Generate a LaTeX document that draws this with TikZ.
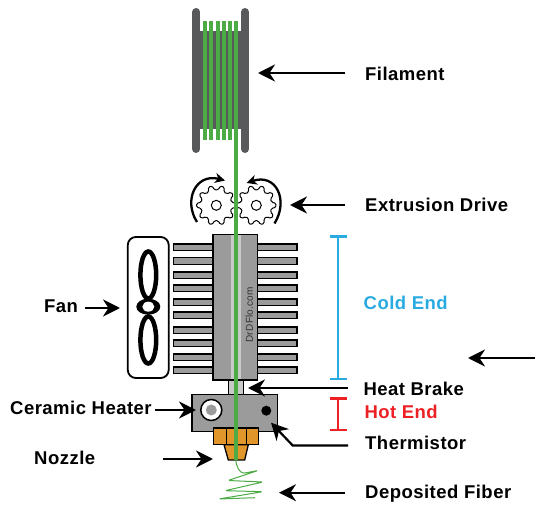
\documentclass[tikz,border=0pt]{standalone}
\usepackage{fontspec}
\setmainfont{Liberation Sans}[LetterSpace=2.6]
\usetikzlibrary{arrows.meta,calc}
\definecolor{fil}{HTML}{4DAB46}
\definecolor{spool}{HTML}{58595B}
\definecolor{steel}{HTML}{9B9B9B}
\definecolor{pale}{HTML}{C9C9C9}
\definecolor{brass}{HTML}{E0962A}
\definecolor{coldc}{HTML}{29ABE2}
\definecolor{hotc}{HTML}{ED2024}
\tikzset{
  lab/.style={anchor=west,inner sep=0pt,font=\fontsize{18.5}{20}\selectfont\bfseries},
  ptr/.style={line width=2.2pt,-{Stealth[length=17pt,width=17pt,inset=5.5pt]}},
  part/.style={draw=black,line width=1.3pt,fill=steel},
  blade/.style={draw=black,line width=4.5pt,fill=white},
  strand/.style={draw=fil,line width=4pt},
  brack/.style={line width=2.3pt},
  turn/.style={line width=2.3pt,-{Stealth[length=10pt,width=10pt,inset=3pt]}}
}
\newcommand{\mygear}[2]{%
  \begin{scope}[shift={(#1,#2)}]
  \draw[black,line width=1pt,fill=white,line join=round,rounded corners=1.4pt]
    (-11:15.5)
    \foreach \a in {0,36,...,324}{
      -- (\a-6:19.8) -- (\a+6:19.8) -- (\a+11:15.5) -- (\a+25:15.5)
    } -- cycle;
  \draw[black,line width=1pt,fill=white] (0,0) circle (5pt);
  \end{scope}
}
\begin{document}
\begin{tikzpicture}[x=1pt,y=-1pt]
\useasboundingbox (0,0) rectangle (550,516);
% spool
\fill[spool] (200,31) rectangle (241,129);
\draw[spool,line width=8pt,line cap=round] (196.3,12) -- (196.3,149);
\draw[spool,line width=8pt,line cap=round] (245,12) -- (245,149);
\foreach \x in {205.3,211.4,217.6,223.7,229.9,236}{\draw[strand] (\x,21) -- (\x,140);}
% gears
\mygear{216.3}{205.3}
\mygear{256.3}{205.3}
\draw[turn] (197,222) .. controls (183,200) and (196,173) .. (225,180.5);
\draw[turn] (274.5,223.5) .. controls (289,200) and (276,173) .. (246.7,183);
% fins
\foreach \y in {243.3,256.7,271.3,284.3,298.3,311.3,326.3,339.3,353.3,366.3}{
  \draw[part] (173.7,\y+0.6) rectangle (213,\y+7.5);
  \draw[part] (257.3,\y+0.6) rectangle (297,\y+7.5);
}
% heat break
\draw[part,fill=pale] (228.7,378) rectangle (243.7,396);
% sink
\draw[part] (213,234.3) rectangle (257.3,380);
\fill[pale] (231,235) rectangle (240.7,379.4);
% fan
\draw[draw=black,line width=1.8pt,fill=white,rounded corners=8pt] (127.8,237) rectangle (168.7,378);
\draw[blade] (148.3,275) ellipse[x radius=7.9pt,y radius=23.5pt];
\draw[blade] (148.3,340) ellipse[x radius=7.9pt,y radius=23.5pt];
\fill[black] (148.3,306.7) ellipse[x radius=12pt,y radius=8pt];
\fill[white] (148.3,306.7) ellipse[x radius=6pt,y radius=5pt];
% heater
\draw[part] (192,394.3) rectangle (277.7,431.3);
\draw[draw=black,line width=1.5pt,fill=white] (211.3,410) circle (10.5pt);
\fill[steel] (211.3,410) circle (5.5pt);
\fill[black] (266.3,410.7) circle (5pt);
% nozzle
\draw[part,fill=brass] (224,444.7) -- (248.3,444.7) -- (244.7,460) -- (228.3,460) -- cycle;
\draw[part,fill=brass] (213.7,428) rectangle (258.3,444.7);
\draw[black,line width=1.1pt] (226.5,428) -- (226.5,444.7) (246.3,428) -- (246.3,444.7);
% fibre
\draw[fil,line width=4.4pt] (236.1,138) -- (236.1,460);
\draw[fil,line width=1pt,rounded corners=1.5pt] (235.8,459) .. controls (236,467) and (240,473) .. (245,473) -- (258,470.5) -- (228,480.5) -- (263,482) -- (225,490.7) -- (262.7,491.7) -- (218.7,499) -- (255,497.7);
% watermark
\node[rotate=90,inner sep=0pt,text=black!80,font=\fontsize{10}{12}\selectfont] (mark) at (249.2,314.7) {DrDFlo.com};
% labels
\node[lab] (filament) at (365,74) {Filament};
\node[lab] (drive) at (365,205) {Extrusion Drive};
\node[lab,text=coldc] (cold) at (363.5,303) {Cold End};
\node[lab] (brake) at (363.3,388.5) {Heat Brake};
\node[lab,text=hotc] (hot) at (364.3,411.5) {Hot End};
\node[lab] (therm) at (365,443) {Thermistor};
\node[lab] (fiber) at (365,494) {Deposited Fiber};
\node[lab] (fan) at (44,306) {Fan};
\node[lab] (ceramic) at (10,408) {Ceramic Heater};
\node[lab] (nozzle) at (34,458) {Nozzle};
% arrow ends
\coordinate (fa) at (345,73); \coordinate (fb) at (258,73);
\coordinate (da) at (345,205); \coordinate (db) at (290,205);
\coordinate (xa) at (535,358); \coordinate (xb) at (468,358);
\coordinate (na) at (85,308); \coordinate (nb) at (120,308);
\coordinate (ba) at (348,388); \coordinate (bb) at (248,388);
\coordinate (ca) at (155,410); \coordinate (cb) at (196,410);
\coordinate (za) at (163,459); \coordinate (zb) at (213,459);
\coordinate (ta) at (348,445.5); \coordinate (tk) at (292.7,445.5); \coordinate (tb) at (271,422.7);
\coordinate (ga) at (345,492.7); \coordinate (gb) at (279,492.7);
\draw[ptr] (fa) -- (fb);
\draw[ptr] (da) -- (db);
\draw[ptr] (xa) -- (xb);
\draw[ptr] (na) -- (nb);
\draw[ptr] (ba) -- (bb);
\draw[ptr] (ca) -- (cb);
\draw[ptr] (za) -- (zb);
\draw[ptr] (ta) -- (tk) -- (tb);
\draw[ptr] (ga) -- (gb);
% brackets
\coordinate (c1) at (338,236.5); \coordinate (c2) at (338,379);
\coordinate (h1) at (338,398.5); \coordinate (h2) at (338,430);
\draw[brack,coldc] (c1) -- (c2) ($(c1)+(-8.5,0)$) -- ($(c1)+(8.5,0)$) ($(c2)+(-8.5,0)$) -- ($(c2)+(8.5,0)$);
\draw[brack,hotc] (h1) -- (h2) ($(h1)+(-8.5,0)$) -- ($(h1)+(8.5,0)$) ($(h2)+(-8.5,0)$) -- ($(h2)+(8.5,0)$);
\end{tikzpicture}
\end{document}
